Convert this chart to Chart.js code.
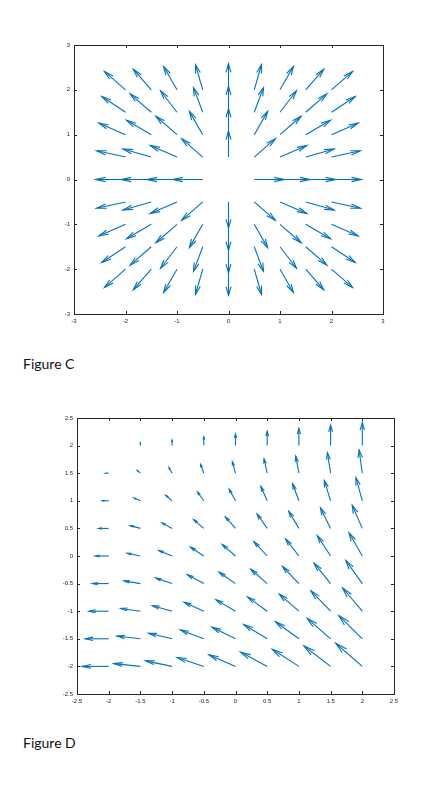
<!DOCTYPE html>
<html>
    <head>
        <meta charset="UTF-8" />
        <title>Quiver figures</title>
        <script src="https://cdn.jsdelivr.net/npm/chart.js@4.4.2/dist/chart.umd.min.js"></script>
        <style>
            body {
                margin: 0;
                background: #fff;
                width: 440px;
                height: 787px;
                position: relative;
                overflow: hidden;
            }

            .plot {
                position: absolute;
                left: 0;
            }

            .caption {
                position: absolute;
                left: 23px;
                font-family: Lato, "Open Sans", sans-serif;
                font-size: 14px;
                color: #111;
            }
        </style>
    </head>
    <body>
        <div class="plot" style="top: 0; width: 440px; height: 340px">
            <canvas id="figC"></canvas>
        </div>
        <div class="caption" style="top: 355px">Figure C</div>

        <div class="plot" style="top: 390px; width: 440px; height: 330px">
            <canvas id="figD"></canvas>
        </div>
        <div class="caption" style="top: 734px">Figure D</div>

        <script>
            // --- Figure C: grid and arrow components (rows go y = -2 .. 2, columns x = -2 .. 2) ---
            var cGrid = [-2, -1.5, -1, -0.5, 0, 0.5, 1, 1.5, 2];
            var cU = [
                [-0.41, -0.35, -0.26, -0.14, 0, 0.14, 0.26, 0.35, 0.41],
                [-0.46, -0.41, -0.32, -0.18, 0, 0.18, 0.32, 0.41, 0.46],
                [-0.52, -0.48, -0.41, -0.26, 0, 0.26, 0.41, 0.48, 0.52],
                [-0.56, -0.55, -0.52, -0.41, 0, 0.41, 0.52, 0.55, 0.56],
                [-0.58, -0.58, -0.58, -0.58, null, 0.58, 0.58, 0.58, 0.58],
                [-0.56, -0.55, -0.52, -0.41, 0, 0.41, 0.52, 0.55, 0.56],
                [-0.52, -0.48, -0.41, -0.26, 0, 0.26, 0.41, 0.48, 0.52],
                [-0.46, -0.41, -0.32, -0.18, 0, 0.18, 0.32, 0.41, 0.46],
                [-0.41, -0.35, -0.26, -0.14, 0, 0.14, 0.26, 0.35, 0.41],
            ];
            var cV = [
                [-0.41, -0.46, -0.52, -0.56, -0.58, -0.56, -0.52, -0.46, -0.41],
                [-0.35, -0.41, -0.48, -0.55, -0.58, -0.55, -0.48, -0.41, -0.35],
                [-0.26, -0.32, -0.41, -0.52, -0.58, -0.52, -0.41, -0.32, -0.26],
                [-0.14, -0.18, -0.26, -0.41, -0.58, -0.41, -0.26, -0.18, -0.14],
                [0, 0, 0, 0, null, 0, 0, 0, 0],
                [0.14, 0.18, 0.26, 0.41, 0.58, 0.41, 0.26, 0.18, 0.14],
                [0.26, 0.32, 0.41, 0.52, 0.58, 0.52, 0.41, 0.32, 0.26],
                [0.35, 0.41, 0.48, 0.55, 0.58, 0.55, 0.48, 0.41, 0.35],
                [0.41, 0.46, 0.52, 0.56, 0.58, 0.56, 0.52, 0.46, 0.41],
            ];

            // --- Figure D: u only changes with the row (y), v only with the column (x) ---
            var dGrid = [-2, -1.5, -1, -0.5, 0, 0.5, 1, 1.5, 2];
            var dURow = [-0.42, -0.37, -0.31, -0.26, -0.21, -0.16, -0.1, -0.05, 0];
            var dVCol = [0, 0.05, 0.1, 0.16, 0.21, 0.26, 0.31, 0.37, 0.42];

            var ARROW_COLOR = "#0072BD";
            var AXIS_COLOR = "#262626";

            function buildC() {
                var pts = [];
                for (var r = 0; r < cGrid.length; r++) {
                    for (var c = 0; c < cGrid.length; c++) {
                        if (cU[r][c] === null) continue;
                        pts.push({ x: cGrid[c], y: cGrid[r], u: cU[r][c], v: cV[r][c] });
                    }
                }
                return pts;
            }

            function buildD() {
                var pts = [];
                for (var r = 0; r < dGrid.length; r++) {
                    for (var c = 0; c < dGrid.length; c++) {
                        pts.push({ x: dGrid[c], y: dGrid[r], u: dURow[r], v: dVCol[c] });
                    }
                }
                return pts;
            }

            // draws the arrows (shaft + matlab style head) and the boxed axes with inward ticks
            var quiverPlugin = {
                id: "quiver",
                afterDatasetsDraw: function (chart) {
                    var ctx = chart.ctx;
                    var xs = chart.scales.x;
                    var ys = chart.scales.y;
                    var area = chart.chartArea;
                    var alpha = 0.33,
                        beta = 0.25;

                    ctx.save();
                    ctx.strokeStyle = ARROW_COLOR;
                    ctx.lineWidth = 1.1;
                    ctx.lineJoin = "miter";
                    chart.data.datasets[0].data.forEach(function (p) {
                        if (p.u === 0 && p.v === 0) return;
                        var tx = p.x + p.u,
                            ty = p.y + p.v;
                        ctx.beginPath();
                        ctx.moveTo(xs.getPixelForValue(p.x), ys.getPixelForValue(p.y));
                        ctx.lineTo(xs.getPixelForValue(tx), ys.getPixelForValue(ty));
                        ctx.stroke();

                        ctx.beginPath();
                        ctx.moveTo(
                            xs.getPixelForValue(tx - alpha * (p.u + beta * p.v)),
                            ys.getPixelForValue(ty - alpha * (p.v - beta * p.u))
                        );
                        ctx.lineTo(xs.getPixelForValue(tx), ys.getPixelForValue(ty));
                        ctx.lineTo(
                            xs.getPixelForValue(tx - alpha * (p.u - beta * p.v)),
                            ys.getPixelForValue(ty - alpha * (p.v + beta * p.u))
                        );
                        ctx.stroke();
                    });

                    // box
                    ctx.strokeStyle = AXIS_COLOR;
                    ctx.lineWidth = 1;
                    ctx.strokeRect(
                        Math.round(area.left) + 0.5,
                        Math.round(area.top) + 0.5,
                        Math.round(area.right - area.left),
                        Math.round(area.bottom - area.top)
                    );

                    // inward ticks on all four sides
                    var len = 3;
                    ctx.beginPath();
                    xs.ticks.forEach(function (t) {
                        var px = Math.round(xs.getPixelForValue(t.value)) + 0.5;
                        ctx.moveTo(px, area.bottom);
                        ctx.lineTo(px, area.bottom - len);
                        ctx.moveTo(px, area.top);
                        ctx.lineTo(px, area.top + len);
                    });
                    ys.ticks.forEach(function (t) {
                        var py = Math.round(ys.getPixelForValue(t.value)) + 0.5;
                        ctx.moveTo(area.left, py);
                        ctx.lineTo(area.left + len, py);
                        ctx.moveTo(area.right, py);
                        ctx.lineTo(area.right - len, py);
                    });
                    ctx.stroke();
                    ctx.restore();
                },
            };

            // matlab style labels: "2" not "2.0"
            function tickLabel(value) {
                return String(Math.round(value * 10) / 10);
            }

            function makeChart(id, points, lim, step, padding) {
                var tickFont = { family: "'Liberation Sans', Arial, sans-serif", size: 6 };
                return new Chart(document.getElementById(id), {
                    type: "scatter",
                    data: {
                        datasets: [{ data: points, pointRadius: 0, pointHoverRadius: 0 }],
                    },
                    plugins: [quiverPlugin],
                    options: {
                        responsive: true,
                        maintainAspectRatio: false,
                        animation: false,
                        events: [],
                        layout: { padding: padding },
                        plugins: { legend: { display: false }, tooltip: { enabled: false } },
                        scales: {
                            x: {
                                min: -lim,
                                max: lim,
                                grid: { display: false, drawTicks: false },
                                border: { display: false },
                                ticks: {
                                    stepSize: step,
                                    autoSkip: false,
                                    maxRotation: 0,
                                    padding: 4,
                                    color: AXIS_COLOR,
                                    font: tickFont,
                                    callback: tickLabel,
                                },
                                afterFit: function (scale) {
                                    scale.height = 20;
                                },
                            },
                            y: {
                                min: -lim,
                                max: lim,
                                grid: { display: false, drawTicks: false },
                                border: { display: false },
                                ticks: {
                                    stepSize: step,
                                    autoSkip: false,
                                    padding: 4,
                                    color: AXIS_COLOR,
                                    font: tickFont,
                                    callback: tickLabel,
                                },
                                afterFit: function (scale) {
                                    scale.width = 20;
                                },
                            },
                        },
                    },
                });
            }

            makeChart("figC", buildC(), 3, 1, { left: 54, top: 45, right: 57, bottom: 6 });
            makeChart("figD", buildD(), 2.5, 0.5, { left: 57, top: 28, right: 46, bottom: 6 });
        </script>
    </body>
</html>
